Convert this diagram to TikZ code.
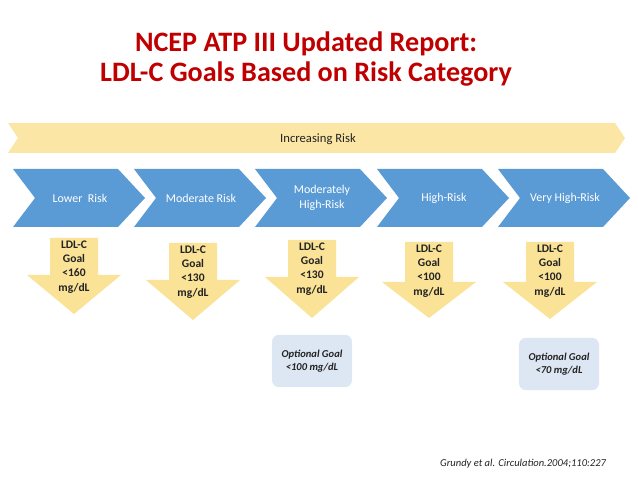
\documentclass[tikz,border=0pt]{standalone}
\usepackage{fontspec}
\setmainfont{Carlito}
\usepackage{xcolor}
\usepackage{tikz}
\usetikzlibrary{positioning}
\definecolor{titlered}{RGB}{192,0,0}
\definecolor{riskblue}{RGB}{91,155,213}
\definecolor{goalyellow}{RGB}{250,226,150}
\definecolor{bandyellow}{RGB}{251,230,165}
\definecolor{optblue}{RGB}{221,230,243}
\definecolor{darktext}{RGB}{35,35,35}

\begin{document}
\begin{tikzpicture}[x=0.025cm,y=-0.025cm,
  risk/.style={text=white,font=\fontsize{8.5}{10.5}\selectfont,align=center},
  goal/.style={text=darktext,font=\bfseries\fontsize{8.2}{10.2}\selectfont,align=center},
  optbox/.style={fill=optblue,rounded corners=5pt,minimum width=2cm,minimum height=1.31cm,
    text=darktext,font=\bfseries\itshape\fontsize{7.5}{9.5}\selectfont,align=center}]
  \useasboundingbox (0,0) rectangle (638,478);
  % title
  \node (title) [text=titlered,font=\bfseries\fontsize{20}{21}\selectfont,align=center]
    at (306,59) {NCEP ATP III Updated Report:\\LDL-C Goals Based on Risk Category};
  % increasing risk band
  \fill [bandyellow] (8,123) -- (615,123) -- (625,138) -- (615,153) -- (8,153) -- (18,138) -- cycle;
  \node (band) [text=darktext,font=\fontsize{9}{10}\selectfont] at (318,139) {Increasing Risk};
  % risk categories
  \foreach \l/\n/\txt in {13/1/Lower\ \ Risk, 134/2/Moderate Risk, 255/3/Moderately\\High-Risk,
      377/4/High-Risk, 498/5/Very High-Risk} {
    \fill [riskblue] (\l,169) -- (\l+105,169) -- (\l+132,198) -- (\l+105,227) -- (\l,227)
      -- (\l+22,198) -- cycle;
    \node (risk\n) [risk] at (\l+67,198) {\txt};
  }
  % LDL-C goals
  \foreach \c/\t/\h/\p/\n/\g in {74/238/275/314/1/160, 193/243/280/320/2/130,
      312/240/277/318/3/130, 429/242/282/318/4/100, 550/242/282/319/5/100} {
    \fill [goalyellow] (\c-24,\t) -- (\c+24,\t) -- (\c+24,\h) -- (\c+47,\h) -- (\c,\p)
      -- (\c-47,\h) -- (\c-24,\h) -- cycle;
    \node (goal\n) [goal] at (\c,\t+29) {LDL-C\\Goal\\<\g\\mg/dL};
  }
  % optional goals
  \node (opt3) [optbox] at (312,361) {Optional Goal\\<100 mg/dL};
  \node (opt5) [optbox] at (559,364) {Optional Goal\\<70 mg/dL};
  % reference
  \node (cite) [anchor=east,text=darktext,font=\itshape\fontsize{7.5}{9}\selectfont]
    at (611,464) {Grundy et al. Circulation.2004;110:227};
\end{tikzpicture}
\end{document}
